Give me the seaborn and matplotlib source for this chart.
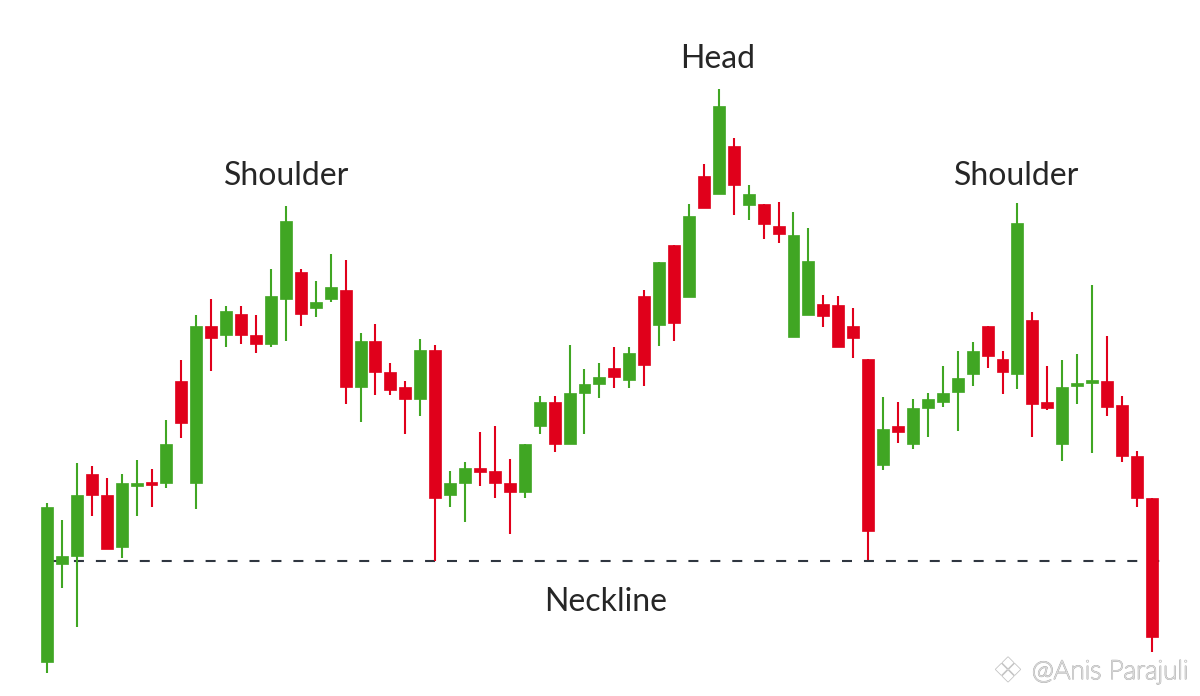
import matplotlib
matplotlib.use("Agg")
import matplotlib.pyplot as plt
import matplotlib.patheffects as pe
import seaborn as sns
import numpy as np
import pandas as pd

# ---- data (price units) ----
opens = [38, 136, 144, 226, 205, 153, 214, 217, 217, 319, 217, 374, 365, 386, 365, 356, 401, 428, 392, 401,
         410, 313, 359, 328, 313, 301, 350, 205, 217, 232, 229, 217, 208, 274, 298, 256, 307, 316, 332, 320,
         404, 375, 455, 403, 524, 506, 554, 495, 496, 474, 363, 385, 396, 395, 374, 341, 235, 274, 256, 292,
         298, 308, 326, 374, 341, 326, 380, 298, 256, 314, 317, 319, 295, 244, 202]
highs = [197, 180, 237, 234, 222, 226, 240, 231, 280, 340, 385, 401, 394, 394, 385, 431, 494, 431, 419, 446,
         440, 367, 376, 337, 319, 361, 355, 229, 238, 268, 274, 241, 256, 304, 304, 355, 331, 337, 353, 353,
         410, 438, 455, 496, 536, 611, 562, 515, 496, 498, 488, 472, 405, 404, 392, 341, 303, 298, 301, 307,
         334, 349, 358, 374, 349, 497, 388, 334, 340, 346, 415, 364, 304, 249, 202]
lows = [27, 112, 73, 184, 151, 142, 184, 193, 212, 262, 191, 329, 353, 356, 347, 353, 359, 374, 383, 398,
        296, 278, 305, 305, 266, 284, 139, 193, 178, 214, 202, 166, 202, 266, 248, 256, 266, 302, 312, 312,
        314, 354, 359, 403, 492, 506, 485, 480, 461, 457, 363, 385, 373, 353, 342, 140, 230, 257, 251, 263,
        293, 269, 314, 332, 306, 311, 263, 290, 239, 296, 247, 284, 238, 193, 48]
closes = [193, 144, 205, 205, 151, 217, 216, 215, 256, 277, 374, 362, 389, 365, 356, 404, 479, 386, 398, 413,
          313, 359, 328, 310, 301, 350, 202, 217, 232, 228, 217, 208, 256, 298, 256, 307, 316, 323, 323, 347,
          335, 438, 377, 484, 492, 594, 515, 506, 476, 466, 465, 439, 384, 353, 362, 169, 271, 268, 292, 301,
          307, 322, 349, 344, 328, 477, 296, 292, 313, 317, 319, 293, 244, 202, 63]
neckline = 139
labels = ["Shoulder", "Head", "Shoulder", "Neckline"]
watermark = "@Anis Parajuli"

df = pd.DataFrame({"open": opens, "high": highs, "low": lows, "close": closes})
df["idx"] = np.arange(len(df))
df["up"] = df["close"] >= df["open"]

GREEN = "#40a623"
RED = "#e0001b"

sns.set_theme(style="white")
plt.rcParams["font.family"] = ["Lato", "DejaVu Sans"]
plt.rcParams["lines.scale_dashes"] = False

fig = plt.figure(figsize=(12, 6.96), dpi=100)
ax = fig.add_axes([0, 0, 1, 1])
ax.set_facecolor("white")

step = 14.93
ax.set_xlim(-47 / step, (1200 - 47) / step)
ax.set_ylim(4, 700)
ax.axis("off")

colors = np.where(df["up"], GREEN, RED)

# wicks
ax.vlines(df["idx"], df["low"], df["high"], colors=colors, linewidth=1.5, zorder=2)
# bodies
body_bottom = np.minimum(df["open"], df["close"])
body_h = np.maximum(np.abs(df["close"] - df["open"]), 3)
ax.bar(df["idx"], body_h, bottom=body_bottom, width=0.80, color=colors,
       edgecolor=colors, linewidth=0.5, zorder=3)

# neckline
ax.plot([5 / step, (1162 - 47) / step], [neckline, neckline], color="#2f3640",
        linewidth=1.5, linestyle=(0, (7.2, 8.6)), zorder=1)

txt_kw = dict(transform=ax.transAxes, ha="center", va="baseline", fontsize=23,
              fontweight="normal", color="#262626")
ax.text(287 / 1200, 1 - 185 / 696, labels[0], **txt_kw)
ax.text(718 / 1200, 1 - 68 / 696, labels[1], **txt_kw)
ax.text(1017 / 1200, 1 - 185 / 696, labels[2], **txt_kw)
ax.text(606 / 1200, 1 - 611 / 696, labels[3], **txt_kw)

wm_fx = [pe.withStroke(linewidth=1.2, foreground="#c4c4c4")]
ax.text(1008 / 1200, 1 - 672 / 696, "\u2756", transform=ax.transAxes, ha="center", va="center",
        fontsize=24, color="white", family=["DejaVu Sans"], path_effects=wm_fx)
ax.text(1110 / 1200, 1 - 672 / 696, watermark, transform=ax.transAxes, ha="center", va="center",
        fontsize=19, fontweight="light", color="white", path_effects=wm_fx)

fig.savefig("out.png", dpi=100, facecolor="white")
